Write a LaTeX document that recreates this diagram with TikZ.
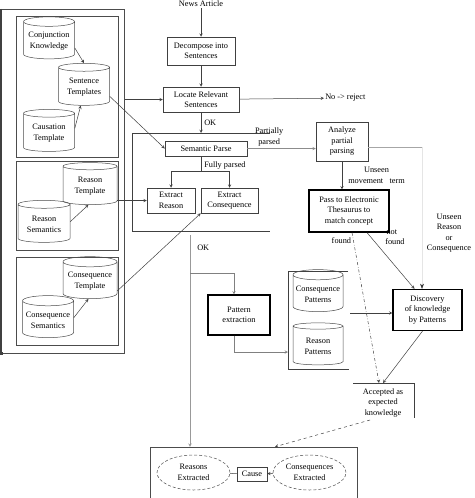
\documentclass[tikz,border=0pt]{standalone}
\usepackage{fontspec}
\setmainfont{Liberation Serif}
\usetikzlibrary{shapes.geometric, arrows, arrows.meta}
\tikzstyle{box} = [rectangle, draw=black!75, align=center, inner sep=1pt, font=\fontsize{8.3}{10.5}\selectfont]
\tikzstyle{boldbox} = [box, line width=1.2pt, draw=black]
\tikzstyle{store} = [cylinder, shape border rotate=90, aspect=0.22, draw=black!70, align=center, font=\fontsize{8.3}{11}\selectfont, minimum width=51pt, minimum height=42pt, inner sep=1pt]
\tikzstyle{panel} = [rectangle, draw=black!70]
\tikzstyle{lbl} = [align=center, font=\fontsize{8.3}{10.5}\selectfont, inner sep=1pt]
\tikzstyle{outcome} = [ellipse, densely dashed, draw=black!70, align=center, font=\fontsize{8.3}{11}\selectfont, minimum width=73pt, minimum height=35pt, inner sep=1pt]
\tikzstyle{arrow} = [->, >=stealth, draw=black!75]

\begin{document}
\begin{tikzpicture}[x=1pt, y=-1pt, line width=0.5pt]
\useasboundingbox (0,0) rectangle (474,498);

% Knowledge base
\node (kbase) [panel, minimum width=124pt, minimum height=344pt] at (62.5,181) {};
\draw [line width=2.5pt, black!75] (kbase.north west) -- (kbase.south west) -- ++(3,0);
\node (panelA) [panel, minimum width=102pt, minimum height=141pt] at (67,86.5) {};
\node (panelB) [panel, minimum width=102pt, minimum height=89pt] at (67,205.5) {};
\node (panelC) [panel, minimum width=102pt, minimum height=88pt] at (67,301) {};
\node (conj) [store] at (49,41) {Conjunction\\Knowledge};
\node (senttmpl) [store] at (84,87) {Sentence\\Templates};
\node (causal) [store] at (49,133) {Causation\\Template};
\node (rtmpl) [store, minimum width=54pt] at (90,186) {Reason\\Template};
\node (rsem) [store, minimum width=52pt] at (44,224) {Reason\\Semantics};
\node (ctmpl) [store, minimum width=54pt] at (90,281) {Consequence\\Template};
\node (csem) [store] at (48,320) {Consequence\\Semantics};

% Main flow
\node (news) [lbl] at (201,4) {News Article};
\node (decompose) [box, minimum width=68pt, minimum height=28pt] at (201,51) {Decompose into\\Sentences};
\node (locate) [box, minimum width=76pt, minimum height=25pt] at (201,99.5) {Locate Relevant\\Sentences};
\node (reject) [lbl, anchor=west] at (324,98) {No -> reject};
\draw [black!75] (270,133) -- (132,133) -- (132,231) -- (270,231);
\coordinate (frametop) at (201,133);
\node (parse) [box, minimum width=82pt, minimum height=15pt] at (206,148.5) {Semantic Parse};
\node (reason) [box, minimum width=48pt, minimum height=25pt] at (171,200.5) {Extract\\Reason};
\node (conseq) [box, minimum width=57pt, minimum height=25pt] at (229.5,200.5) {Extract\\Consequence};
\coordinate (fork) at (201,171);

% Partial parsing branch
\node (analyze) [box, minimum width=52pt, minimum height=39pt] at (342,141.5) {Analyze\\partial\\parsing};
\node (pass) [boldbox, minimum width=80pt, minimum height=42pt] at (349,211) {Pass to Electronic\\Thesaurus to\\match concept};
\node (discovery) [boldbox, minimum width=69pt, minimum height=41pt] at (427.5,310) {Discovery\\of knowledge\\by Patterns};
\coordinate (unseen) at (422,147);
\node (accepted) [lbl] at (383,403) {Accepted as\\expected\\knowledge};
\draw [black!75] (353,383) -- (414,383) -- (414,418);
\coordinate (acctop) at (379,383);
\coordinate (accbot) at (370,420);

% Patterns
\node (pattern) [boldbox, minimum width=62pt, minimum height=40pt] at (239,315) {Pattern\\extraction};
\draw [black!75] (348,271) -- (288,271) -- (288,369) -- (349,369);
\node (cpat) [store, minimum width=50pt] at (318,294) {Consequence\\Patterns};
\node (rpat) [store, minimum width=50pt] at (318,346) {Reason\\Patterns};
\coordinate (patin) at (288,352);
\coordinate (patout) at (350,313);
\coordinate (okstart) at (190,235);
\coordinate (okfork) at (190,273);

% Results
\node (results) [panel, minimum width=207pt, minimum height=51pt] at (253.5,472.5) {};
\node (reasons) [outcome] at (193.5,472.5) {Reasons\\Extracted};
\node (cause) [box, minimum width=30pt, minimum height=14pt] at (252,474) {Cause};
\node (consequences) [outcome] at (309.5,472.5) {Consequences\\Extracted};

% Arrows
\draw [arrow] (conj.-15) -- (senttmpl.north);
\draw [arrow] (causal.10) -- (senttmpl.-100);
\draw [arrow] (rsem.5) -- (rtmpl.-95);
\draw [arrow] (csem.5) -- (ctmpl.-95);
\draw [arrow] (news) -- (decompose);
\draw [arrow] (decompose) -- (locate);
\draw [arrow] (kbase.east |- locate) -- (locate);
\draw [arrow] (locate) -- (reject);
\draw [arrow] (locate) -- node[lbl, anchor=west, xshift=2pt] {OK} (frametop);
\draw [arrow] (senttmpl.-20) -- (parse.west);
\draw [black!75] (parse.south -| fork) -- (fork);
\draw [arrow] (fork) -| (reason);
\draw [arrow] (fork) -| node[lbl, pos=0.35, above, xshift=4pt] {Fully parsed} (conseq);
\draw [arrow] (rtmpl.east |- reason) -- (reason);
\draw [arrow] (ctmpl.-20) -- (conseq.south west);
\draw [arrow, draw=black!45] (parse.east) -- node[lbl, pos=0.32, above=1pt] {Partially\\parsed} (parse.east -| analyze.west);
\draw [draw=black!35] (analyze.east |- unseen) -- (unseen);
\draw [draw=black!10, -{Stealth[black!80]}] (unseen) -- (unseen |- discovery.north);
\node [lbl] at (449,233) {Unseen\\Reason\\or\\Consequence};
\draw [arrow] (analyze.south) -- node[lbl, right=5pt] {Unseen\\movement\ \ \ term} (analyze.south |- pass.north);
\draw [arrow] ([xshift=18pt]pass.south) -- node[lbl, pos=0.08, right=7pt] {not\\\ \ \ found} ([xshift=-13pt]discovery.north);
\draw [arrow, dash dot] ([xshift=3pt]pass.south) -- node[lbl, pos=0.05, left=1pt] {found} (acctop);
\draw [arrow] ([xshift=-5pt]discovery.south) -- ([xshift=4pt]acctop);
\draw [arrow, dashed] (accbot) -- ([xshift=21.5pt]results.north);
\draw [arrow, draw=black!40] (okstart) -- node[lbl, pos=0.06, right=6pt] {OK} (okstart |- results.north);
\draw [arrow, draw=black!50] (okfork) -| ([xshift=-5pt]pattern.north);
\draw [arrow, draw=black!50] ([xshift=-5pt]pattern.south) |- (patin);
\draw [arrow] (patout) -- (patout -| discovery.west);
\draw [black!75] (reasons) -- (cause);
\draw [arrow] (consequences) -- (cause);

\end{tikzpicture}
\end{document}
